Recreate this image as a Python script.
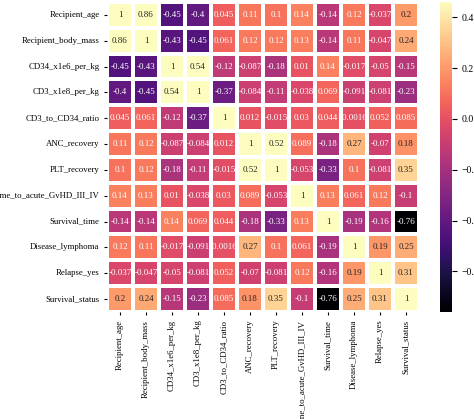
import numpy as np, pandas as pd, seaborn as sns, matplotlib
matplotlib.use("Agg")
import matplotlib.pyplot as plt

labels = ["Recipient_age","Recipient_body_mass","CD34_x1e6_per_kg","CD3_x1e8_per_kg","CD3_to_CD34_ratio",
          "ANC_recovery","PLT_recovery","Time_to_acute_GvHD_III_IV","Survival_time","Disease_lymphoma",
          "Relapse_yes","Survival_status"]
r0 = [1,0.86,-0.45,-0.4,0.045,0.11,0.1,0.14,-0.14,0.12,-0.037,0.2]
r1 = [0.86,1,-0.43,-0.45,0.061,0.12,0.12,0.13,-0.14,0.11,-0.047,0.24]
r2 = [-0.45,-0.43,1,0.54,-0.12,-0.087,-0.18,0.01,0.14,-0.017,-0.05,-0.15]
r3 = [-0.4,-0.45,0.54,1,-0.37,-0.084,-0.11,-0.038,0.069,-0.091,-0.081,-0.23]
r4 = [0.045,0.061,-0.12,-0.37,1,0.012,-0.015,0.03,0.044,-0.0016,0.052,0.085]
r5 = [0.11,0.12,-0.087,-0.084,0.012,1,0.52,0.089,-0.18,0.27,-0.07,0.18]
r6 = [0.1,0.12,-0.18,-0.11,-0.015,0.52,1,-0.053,-0.33,0.1,-0.081,0.35]
r7 = [0.14,0.13,0.01,-0.038,0.03,0.089,-0.053,1,0.13,0.061,0.12,-0.1]
r8 = [-0.14,-0.14,0.14,0.069,0.044,-0.18,-0.33,0.13,1,-0.19,-0.16,-0.76]
r9 = [0.12,0.11,-0.017,-0.091,-0.0016,0.27,0.1,0.061,-0.19,1,0.19,0.25]
r10 = [-0.037,-0.047,-0.05,-0.081,0.052,-0.07,-0.081,0.12,-0.16,0.19,1,0.31]
r11 = [0.2,0.24,-0.15,-0.23,0.085,0.18,0.35,-0.1,-0.76,0.25,0.31,1]
df = pd.DataFrame([r0,r1,r2,r3,r4,r5,r6,r7,r8,r9,r10,r11], index=labels, columns=labels)

plt.rcParams['font.family'] = ['Liberation Serif', 'DejaVu Sans']
fig = plt.figure(figsize=(4.74, 4.19), dpi=100)
ax = fig.add_axes([107/474, 1-312/419, 312/474, 310/419])
cax = fig.add_axes([440/474, 1-312/419, 12/474, 310/419])
sns.heatmap(df, ax=ax, cbar_ax=cax, cmap="magma", vmin=-0.76, vmax=0.46, annot=True,
            fmt=".2g", annot_kws={"size": 6.5}, linewidths=1.5, linecolor="white")
ax.tick_params(labelsize=6.3, length=2)
ax.set_xticklabels(labels, rotation=90)
ax.set_yticklabels(labels, rotation=0)
cax.tick_params(labelsize=7)
cax.set_yticks([-0.6,-0.4,-0.2,0,0.2,0.4])
fig.savefig("out.png", dpi=100)
